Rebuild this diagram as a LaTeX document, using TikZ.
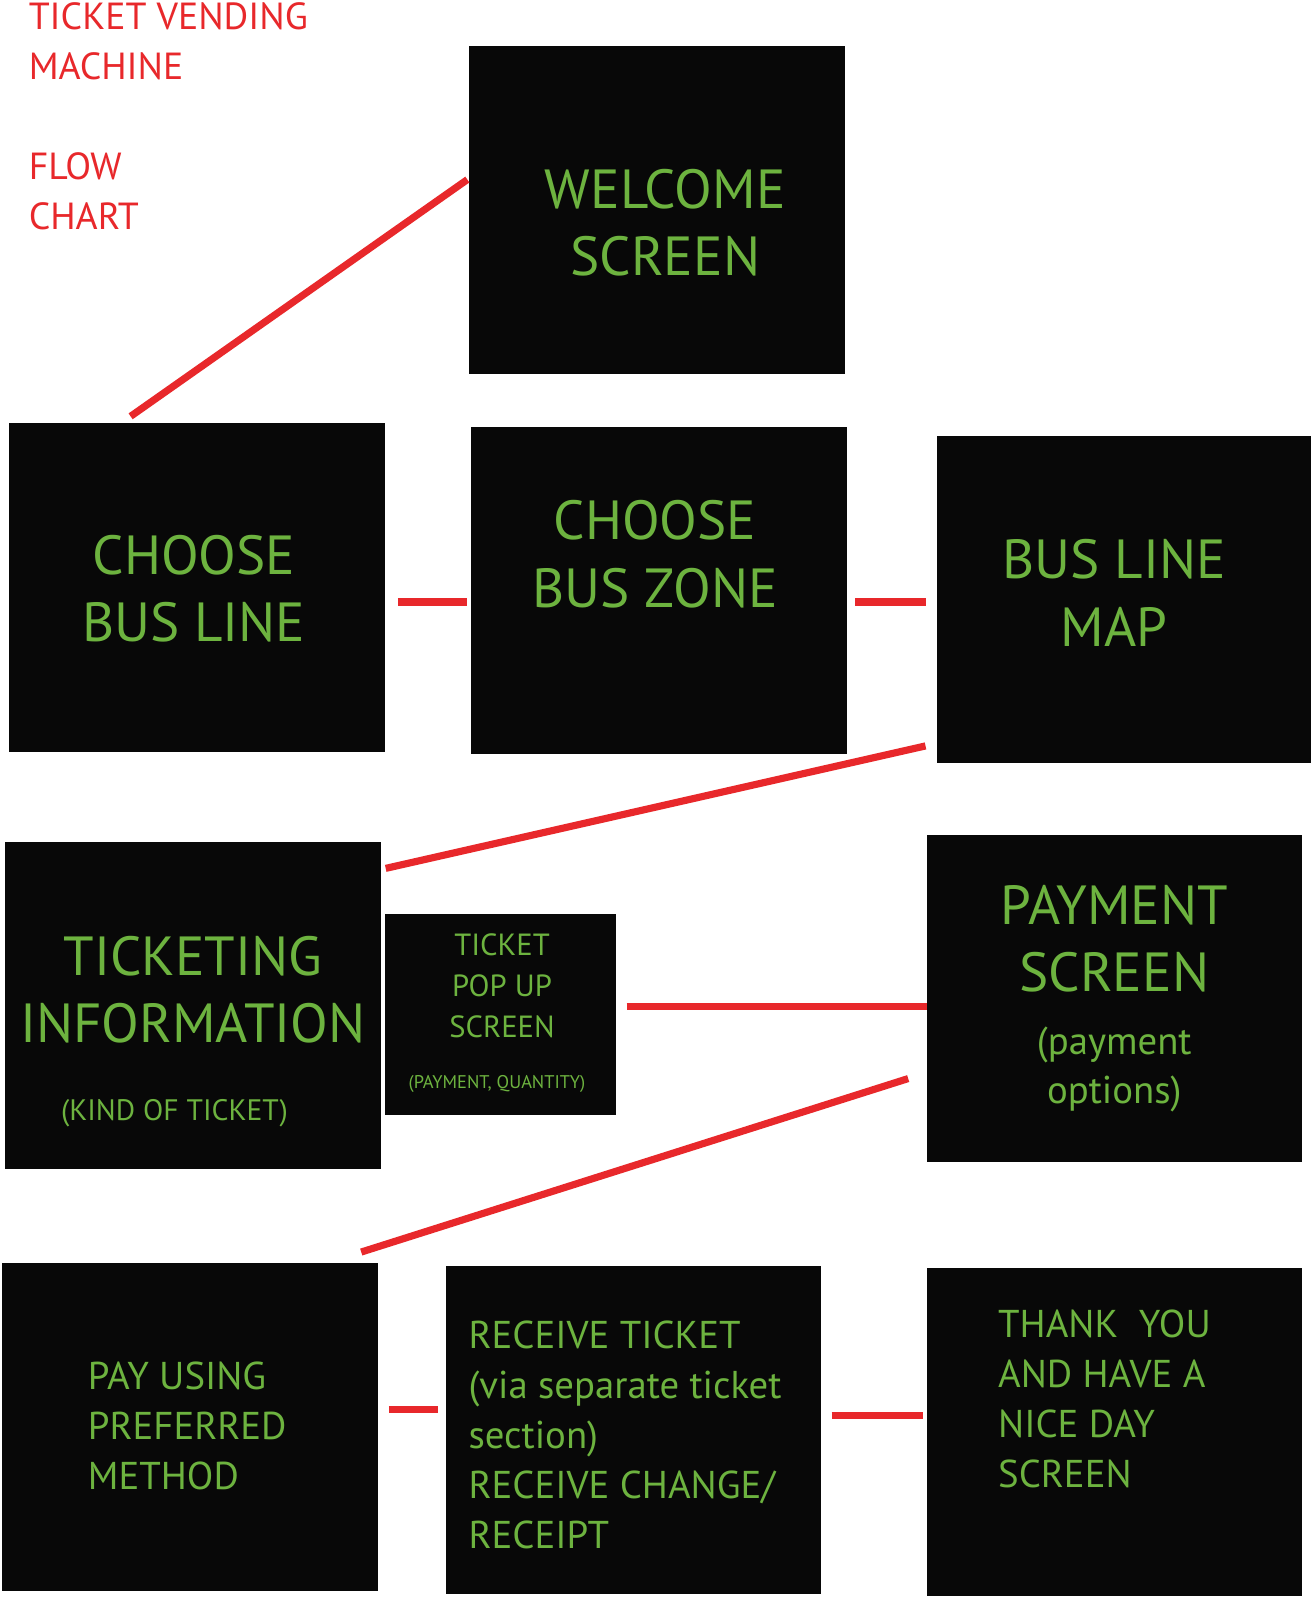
\documentclass[tikz,border=0pt]{standalone}
\usepackage{fontspec}
\setmainfont{PT Sans}
\definecolor{grn}{HTML}{6DB33F}
\definecolor{rd}{HTML}{E8282B}
\begin{document}
\begin{tikzpicture}[x=1pt,y=-1pt,
 box/.style={fill=black!97,draw=none},
 link/.style={draw=rd,line width=7pt},
 big/.style={text=grn,align=center,font=\fontsize{54}{66}\selectfont,inner sep=0},
 mid/.style={text=grn,align=left,font=\fontsize{38}{49}\selectfont,inner sep=0},
 sml/.style={text=grn,align=center,font=\fontsize{30}{40}\selectfont,inner sep=0}]
\useasboundingbox[fill=white] (0,0) rectangle (1288,1568);
\fill[box] (460,45) rectangle (828,367);
\fill[box] (9,415) rectangle (377,737);
\fill[box] (462,418) rectangle (830,739);
\fill[box] (918,427) rectangle (1285,748);
\fill[box] (5,825) rectangle (373,1146);
\fill[box] (377,896) rectangle (604,1093);
\fill[box] (908,818) rectangle (1276,1139);
\fill[box] (2,1238) rectangle (370,1559);
\fill[box] (437,1241) rectangle (805,1562);
\fill[box] (908,1243) rectangle (1276,1564);
\node[text=rd,anchor=north west,align=left,inner sep=0,font=\fontsize{37}{49}\selectfont] (title) at (28,2) {TICKET VENDING\\MACHINE\\[49pt]FLOW\\CHART};
\node[big] (welcome) at (652,218) {WELCOME\\SCREEN};
\node[big] (line) at (190,577) {CHOOSE\\BUS LINE};
\node[big] (zone) at (642,543) {CHOOSE\\BUS ZONE};
\node[big] (map) at (1092,581) {BUS LINE\\MAP};
\node[big] (info) at (189,970) {TICKETING\\INFORMATION};
\node[sml,font=\fontsize{29}{36}\selectfont] (kind) at (171,1091) {(KIND OF TICKET)};
\node[sml] (pop) at (492,966) {TICKET\\POP UP\\SCREEN};
\node[sml,font=\fontsize{18}{22}\selectfont] (pq) at (487,1062) {(PAYMENT, QUANTITY)};
\node[big] (pay) at (1092,920) {PAYMENT\\SCREEN};
\node[sml,font=\fontsize{38}{48}\selectfont] (opt) at (1092,1048) {(payment\\options)};
\node[mid,anchor=west] (method) at (86,1397) {PAY USING\\PREFERRED\\METHOD};
\node[mid,anchor=west] (recv) at (459,1406) {RECEIVE TICKET\\(via separate ticket\\section)\\RECEIVE CHANGE/\\RECEIPT};
\node[mid,anchor=west] (thanks) at (978,1371) {THANK~ YOU\\AND HAVE A\\NICE DAY\\SCREEN};
\coordinate (a1) at (128,408); \coordinate (a2) at (458,176);
\coordinate (b1) at (390,590); \coordinate (b2) at (458,590);
\coordinate (c1) at (838,590); \coordinate (c2) at (907,590);
\coordinate (d1) at (378,851); \coordinate (d2) at (907,731);
\coordinate (e1) at (614,986); \coordinate (e2) at (908,986);
\coordinate (f1) at (354,1227); \coordinate (f2) at (890,1057);
\coordinate (g1) at (381,1381); \coordinate (g2) at (429,1381);
\coordinate (h1) at (815,1387); \coordinate (h2) at (905,1387);
\draw[link] (a1) -- (a2);
\draw[link] (b1) -- (b2);
\draw[link] (c1) -- (c2);
\draw[link] (d1) -- (d2);
\draw[link] (e1) -- (e2);
\draw[link] (f1) -- (f2);
\draw[link] (g1) -- (g2);
\draw[link] (h1) -- (h2);
\end{tikzpicture}
\end{document}
